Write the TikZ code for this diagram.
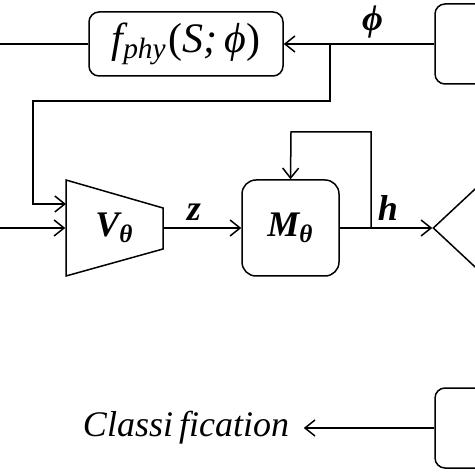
\documentclass[tikz,border=0pt]{standalone}
\usepackage{fontspec}
\setmainfont{Liberation Serif}
\usetikzlibrary{arrows.meta,shapes.geometric}
\newcommand{\bsub}[2]{\textbf{\textit{#1\textsubscript{#2}}}}
\begin{document}
\begin{tikzpicture}[x=0.5pt,y=-0.5pt, line width=0.75pt,
  arr/.style={-{Straight Barb[length=5pt,width=8pt,line width=0.75pt]}},
  rbox/.style={draw,rounded corners=5pt,inner sep=0pt},
  lbl/.style={font=\fontsize{18}{21}\selectfont\bfseries\itshape},
  every node/.style={font=\fontsize{18}{21}\selectfont\itshape}]
\useasboundingbox (0,0) rectangle (474,474);
% nodes
\node[rbox,minimum width=97pt,minimum height=32pt,font=\fontsize{21}{24}\selectfont\itshape] (fphy) at (186,44) {f\textsubscript{phy}\kern1pt\upshape(\itshape S;\,ϕ\upshape)};
\node[rbox,minimum width=60pt,minimum height=40pt] (R1) at (495,44) {};
\node[minimum width=48.5pt,minimum height=48pt,inner sep=0pt] (V) at (114.5,228) {\bsub{V}{θ}};
\draw (66,180) -- (163,208) -- (163,249) -- (66,276) -- cycle;
\node[rbox,rounded corners=7pt,minimum width=48.5pt,minimum height=48pt] (M) at (290.5,228) {\bsub{M}{θ}};
\node[draw,diamond,minimum width=60pt,minimum height=56pt,inner sep=0pt] (D) at (493,228) {};
\node[rbox,minimum width=60pt,minimum height=40pt] (R2) at (495,428) {};
\node[inner xsep=7pt] (C) at (186,428) {Classi\,fication};
% connectors
\coordinate (L1) at (0,44);
\coordinate (in) at (0,228);
\coordinate (b1) at (330,44);
\coordinate (b2) at (371,228);
\draw (fphy.west) -- (L1);
\draw[arr] (R1.west) -- node[pos=0.41,above=-1pt,lbl]{ϕ} (fphy.east);
\draw[arr] (b1) -- (330,101) -- (33,101) -- (33,204) -- (66,204);
\draw[arr] (in) -- (V.west);
\draw[arr] (V.east) -- node[pos=0.39,above=0pt,lbl]{z} (M.west);
\draw[arr] (M.east) -- node[pos=0.52,above=0pt,lbl]{h} (D.west);
\draw[arr] (b2) -- (371,132) -- (291,132) -- (M.north);
\draw[arr] (R2.west) -- (C.east);
\end{tikzpicture}
\end{document}
